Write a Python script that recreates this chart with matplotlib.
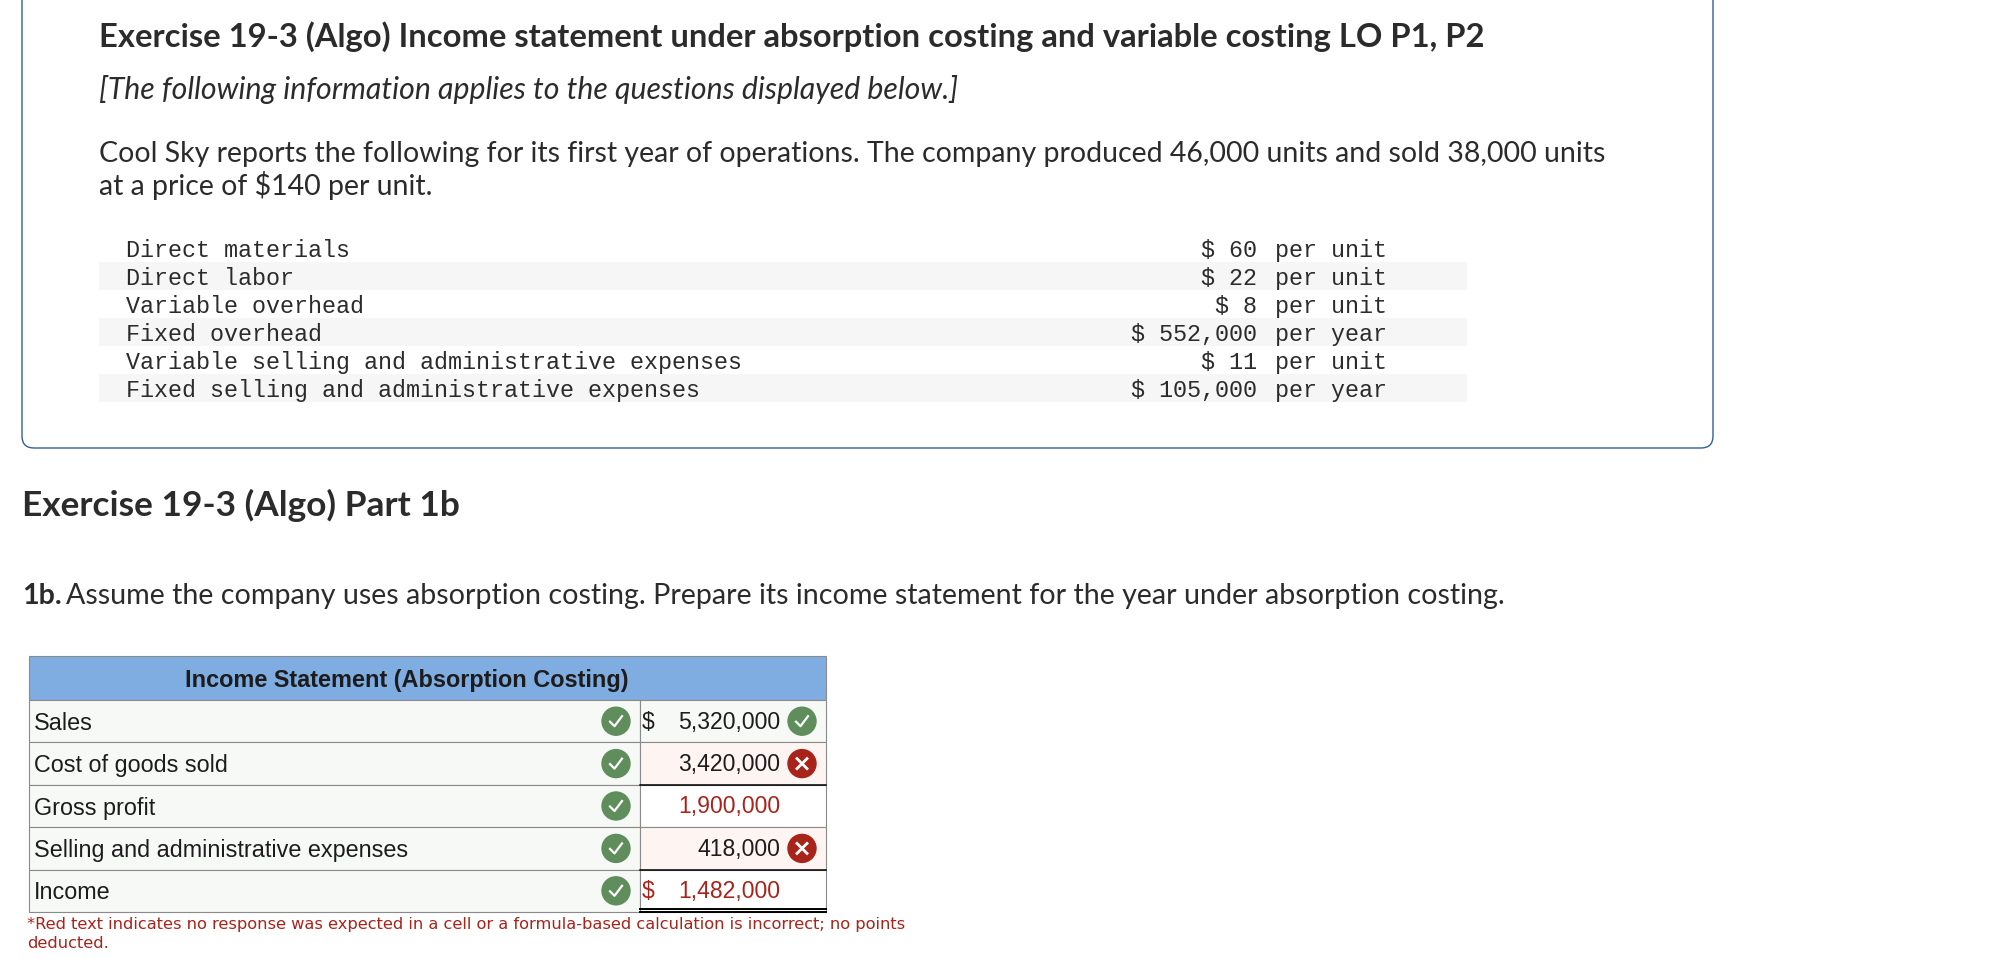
import matplotlib.pyplot as plt
from matplotlib.patches import Circle, FancyBboxPatch, Rectangle

title = "Exercise 19-3 (Algo) Income statement under absorption costing and variable costing LO P1, P2"
note = "[The following information applies to the questions displayed below.]"
intro = [
    "Cool Sky reports the following for its first year of operations. The company produced 46,000 units and sold 38,000 units",
    "at a price of $140 per unit.",
]
cost_names = [
    "Direct materials",
    "Direct labor",
    "Variable overhead",
    "Fixed overhead",
    "Variable selling and administrative expenses",
    "Fixed selling and administrative expenses",
]
cost_values = ["60", "22", "8", "552,000", "11", "105,000"]
cost_units = ["per unit", "per unit", "per unit", "per year", "per unit", "per year"]

part_title = "Exercise 19-3 (Algo) Part 1b"
part_label = "1b."
part_text = "Assume the company uses absorption costing. Prepare its income statement for the year under absorption costing."

table_title = "Income Statement (Absorption Costing)"
rows = ["Sales", "Cost of goods sold", "Gross profit", "Selling and administrative expenses", "Income"]
amounts = ["5,320,000", "3,420,000", "1,900,000", "418,000", "1,482,000"]
has_dollar = [True, False, False, False, True]
amount_red = [False, False, True, False, True]
amount_mark = ["ok", "bad", None, "bad", None]
footnote = [
    "*Red text indicates no response was expected in a cell or a formula-based calculation is incorrect; no points",
    "deducted.",
]

INK = "#2b2b2b"
RED = "#a8231a"
GREEN = "#5f8d5b"
GRID = "#8a8a8a"
STRIPE = "#f6f6f6"
SANS = "Lato"
TABLE = "Liberation Sans"
MONO = "Liberation Mono"


def draw_mark(ax, x, y, kind):
    color = GREEN if kind == "ok" else RED
    ax.add_patch(Circle((x, y), 14, color=color, zorder=3))
    if kind == "ok":
        ax.plot([x - 6, x - 1.5, x + 6], [y + 0.5, y + 5, y - 5], color="white", lw=1.6, zorder=4)
    else:
        ax.plot([x - 5, x + 5], [y - 5, y + 5], color="white", lw=2, zorder=4)
        ax.plot([x - 5, x + 5], [y + 5, y - 5], color="white", lw=2, zorder=4)


def main():
    fig = plt.figure(figsize=(19.92, 9.74), dpi=100)
    ax = fig.add_axes([0, 0, 1, 1])
    ax.set_xlim(0, 1992)
    ax.set_ylim(974, 0)
    ax.axis("off")

    # card around the question, top edge is cut off by the screenshot
    ax.add_patch(FancyBboxPatch((22, -40), 1691, 488, boxstyle="round,pad=0,rounding_size=12",
                                fc="white", ec="#2f5f9e", lw=1))

    ax.text(99, 37, title, fontsize=23.55, fontweight="bold", family=SANS, color=INK, va="center")
    ax.text(99, 90, note, fontsize=21.8, style="italic", family=SANS, color=INK, va="center")
    for i, line in enumerate(intro):
        ax.text(99, 154 + i * 32, line, fontsize=20.55, family=SANS, color=INK, va="center")

    for i, name in enumerate(cost_names):
        y = 250.5 + i * 28
        if i % 2 == 1:
            ax.add_patch(Rectangle((99, y - 16.5), 1368, 28, color=STRIPE, lw=0))
        ax.text(126, y, name, fontsize=16.85, family=MONO, color=INK, va="center")
        ax.text(1257, y, "$ " + cost_values[i], fontsize=16.85, family=MONO, color=INK, va="center", ha="right")
        ax.text(1275, y, cost_units[i], fontsize=16.85, family=MONO, color=INK, va="center")

    ax.text(22, 505, part_title, fontsize=25.4, fontweight="bold", family=SANS, color=INK, va="center")
    ax.text(22, 596, part_label, fontsize=20.6, fontweight="bold", family=SANS, color=INK, va="center")
    ax.text(66, 596, part_text, fontsize=20.65, family=SANS, color=INK, va="center")

    # income statement table
    left, mid, right = 28.5, 640, 825.5
    top, head = 656, 700
    row_h = 42.4
    ax.add_patch(Rectangle((left, top), right - left, head - top, fc="#80ade1", ec=GRID, lw=0.8))
    ax.text(407, 680, table_title, fontsize=16.9, fontweight="bold", family=TABLE, color="#1c1c1c",
            va="center", ha="center")

    for i, name in enumerate(rows):
        y0 = head + i * row_h
        y = y0 + row_h / 2
        ax.add_patch(Rectangle((left, y0), mid - left, row_h, fc="#f7f9f6", ec=GRID, lw=0.8))
        cell = "#fef5f3" if amount_mark[i] == "bad" else "#f7f9f6" if amount_mark[i] == "ok" else "white"
        ax.add_patch(Rectangle((mid, y0), right - mid, row_h, fc=cell, ec=GRID, lw=0.8))
        ax.text(34, y + 2, name, fontsize=16.85, family=TABLE, color="#1c1c1c", va="center")
        draw_mark(ax, 616, y, "ok")
        color = RED if amount_red[i] else "#1c1c1c"
        if has_dollar[i]:
            ax.text(642, y + 1, "$", fontsize=16.6, family=TABLE, color=color, va="center")
        ax.text(780, y + 1, amounts[i], fontsize=16.6, family=TABLE, color=color, va="center", ha="right")
        if amount_mark[i]:
            draw_mark(ax, 802, y, amount_mark[i])

    # subtotal rules on the amount column
    for i in [2, 4]:
        ax.plot([mid, right], [head + i * row_h] * 2, color="black", lw=1.1, zorder=2)
    bottom = head + 5 * row_h
    ax.plot([mid, right], [bottom - 3.5] * 2, color="black", lw=1.4, zorder=2)
    ax.plot([mid, right], [bottom] * 2, color="black", lw=1.4, zorder=2)

    for i, line in enumerate(footnote):
        ax.text(27, 925 + i * 19, line, fontsize=11.74, family="DejaVu Sans", color=RED, va="center")

    fig.savefig("out.png", dpi=100)


if __name__ == "__main__":
    main()
